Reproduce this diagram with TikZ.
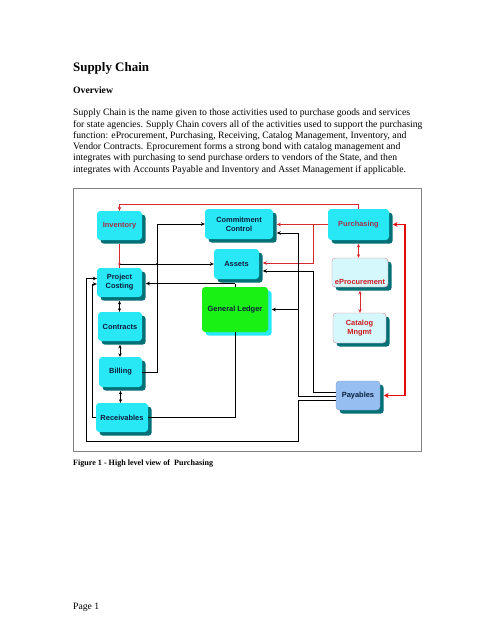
\documentclass[tikz,border=0pt]{standalone}
\usepackage{fontspec}
\setmainfont{Liberation Serif}
\newfontfamily\arialf{Liberation Sans}
\usetikzlibrary{arrows.meta,shadows}
\newcommand\pxu{1.2364pt}
\definecolor{boxcyan}{RGB}{40,232,245}
\definecolor{shteal}{RGB}{0,112,118}
\definecolor{lbldark}{RGB}{10,30,60}
\definecolor{lblred}{RGB}{160,50,75}
\definecolor{epfill}{RGB}{212,248,252}
\definecolor{epdraw}{RGB}{215,140,150}
\definecolor{epred}{RGB}{205,25,30}
\definecolor{payfill}{RGB}{150,190,240}
\definecolor{glgreen}{RGB}{25,240,20}
\definecolor{linered}{RGB}{215,40,45}
\definecolor{thickred}{RGB}{230,10,10}
\definecolor{framegray}{RGB}{130,130,130}
\begin{document}
\begin{tikzpicture}[x=1.2364pt,y=-1.2364pt,
  bw/.style={minimum width=#1*\pxu},
  bh/.style={minimum height=#1*\pxu},
  basebox/.style={rounded corners=4pt, inner sep=0pt, align=center,
    font=\arialf\bfseries\fontsize{9.2}{11}\selectfont, text=lbldark},
  cbox/.style={basebox, fill=boxcyan,
    general shadow={fill=shteal, shadow xshift=4.5pt, shadow yshift=-4.5pt}},
  gbox/.style={basebox, fill=glgreen,
    general shadow={fill=boxcyan, shadow xshift=4.5pt, shadow yshift=-4.5pt}},
  lbox/.style={basebox, fill=epfill, draw=epdraw, line width=0.5pt, text=epred,
    general shadow={fill=shteal, draw=none, shadow xshift=4.5pt, shadow yshift=-4.5pt}},
  pbox/.style={basebox, fill=payfill, draw=payfill!80!black, line width=0.3pt,
    general shadow={fill=shteal, draw=none, shadow xshift=4.5pt, shadow yshift=-4.5pt}},
  lbltext/.style={inner sep=0pt, font=\arialf\bfseries\fontsize{9.2}{11}\selectfont, text=epred},
  txt/.style={anchor=base west, inner sep=0pt, font=\fontsize{12}{13.8}\selectfont},
  tip/.style={-{Stealth[length=5pt,width=4.5pt]}},
  tips/.style={{Stealth[length=4.5pt,width=4pt]}-{Stealth[length=4.5pt,width=4pt]}},
  blk/.style={draw=black, line width=0.75pt},
  redl/.style={draw=linered, line width=0.8pt},
  redthick/.style={draw=thickred, line width=1.6pt},
  shE/.style={shorten >=4.5pt},
  shS/.style={shorten <=4.5pt}
]
\useasboundingbox (0,0) rectangle (495,640);
\fill[white] (0,0) rectangle (495,640);

% ---- text ----
\node[txt, font=\bfseries\fontsize{16}{19}\selectfont] (head) at (73,72) {Supply Chain};
\node[txt, font=\bfseries\fontsize{12}{13.8}\selectfont] (over) at (73,94) {Overview};
\node[txt] (t1) at (73,116) {Supply Chain is the name given to those activities used to purchase goods and services};
\node[txt] (t2) at (73,127.2) {for state agencies. Supply Chain covers all of the activities used to support the purchasing};
\node[txt] (t3) at (73,138.4) {function: eProcurement, Purchasing, Receiving, Catalog Management, Inventory, and};
\node[txt] (t4) at (73,149.6) {Vendor Contracts. Eprocurement forms a strong bond with catalog management and};
\node[txt] (t5) at (73,160.8) {integrates with purchasing to send purchase orders to vendors of the State, and then};
\node[txt] (t6) at (73,172) {integrates with Accounts Payable and Inventory and Asset Management if applicable.};
\node[txt, font=\bfseries\fontsize{10}{12}\selectfont] (cap) at (73,465) {Figure 1 - High level view of~ Purchasing};
\node[txt] (page) at (73,609) {Page 1};

% ---- frame ----
\draw[framegray, line width=0.9pt] (73,188) rectangle (421,451);

% ---- boxes ----
\node[cbox, bw=45, bh=29, text=lblred] (inv) at (119.5,225.5) {Inventory};
\node[cbox, bw=68, bh=30] (cc) at (239,224) {Commitment\\Control};
\node[cbox, bw=45, bh=30] (as) at (236.5,264) {Assets};
\node[cbox, bw=45, bh=29] (pc) at (119.5,282.5) {Project\\Costing};
\node[gbox, bw=66, bh=45] (gl) at (235,309.5) {General Ledger};
\node[cbox, bw=44, bh=29] (con) at (120,326.5) {Contracts};
\node[cbox, bw=43, bh=30] (bil) at (120.5,372) {Billing};
\node[cbox, bw=52, bh=29] (rec) at (122,417.5) {Receivables};
\node[cbox, bw=61, bh=31, text=lblred] (pur) at (358.5,224.5) {Purchasing};
\node[lbox, bw=56, bh=29] (ep) at (360,272.5) {};
\node[lbltext] (eplbl) at (360,282) {eProcurement};
\node[lbox, bw=53, bh=30] (cat) at (359.5,328) {Catalog\\Mngmt};
\node[pbox, bw=44, bh=29] (pay) at (358,395.5) {Payables};

% ---- coordinates ----
\coordinate (ipj) at (119.5,264);
\coordinate (rj) at (313,224.5);
\coordinate (gj) at (298,309.5);

% ---- red connectors ----
\draw[redl, tip] (pur.north) -- (pur.north |- 0,204) -| (inv.north);
\draw[redl, tip, shE] (pur.west) -- (cc.east |- pur.west);
\draw[redl, tip, shE] (rj) |- (as.east |- 0,263);
\draw[redl, shS] (inv.south) -- (pc.north);
\fill[linered] (ipj) circle (1.4);
\draw[redl, tips, shS] (pur.south) -- (pur.south |- ep.north);
\draw[redl, tips, shS] (ep.south) -- (ep.south |- cat.north);
\draw[redthick, {Stealth[length=6pt,width=6pt]}-{Stealth[length=6pt,width=6pt]}, shS, shE]
  (pur.east) -- (405,224.5) |- (pay.east);

% ---- black connectors ----
\draw[blk, tip] (bil.east) -- (bil.east -| 157,0) |- (cc.west);
\draw[blk, tip] (ipj) -- (as.west);
\fill (157,264) circle (1.1);
\draw[blk] (gl.north) -- (gl.north |- 0,283.5);
\draw[blk, tip, shE] (gl.north |- 0,283.5) -- (pc.east |- 0,283.5);
\draw[blk] (gl.south) |- (rec.east);
\draw[blk, tip, shE] (pay.west |- 0,396.5) -| (298,233) -- (cc.east |- 0,233);
\draw[blk, tip, shE] (gj) -- (gl.east);
\draw[blk, tip, shE] (pay.west |- 0,392) -| (313,271) -- (as.east |- 0,271);
\draw[blk, tip] (pay.west |- 0,400) -| (298,441) -| (86,278.5) -- (pc.west |- 0,278.5);
\draw[blk, tip] (rec.west) -| (92,284) -- (pc.west |- 0,284);
\draw[blk, tips, shS] (pc.south) -- (pc.south |- con.north);
\draw[blk, tips, shS] (con.south) -- (con.south |- bil.north);
\draw[blk, tips, shS] (bil.south) -- (bil.south |- rec.north);
\end{tikzpicture}
\end{document}
